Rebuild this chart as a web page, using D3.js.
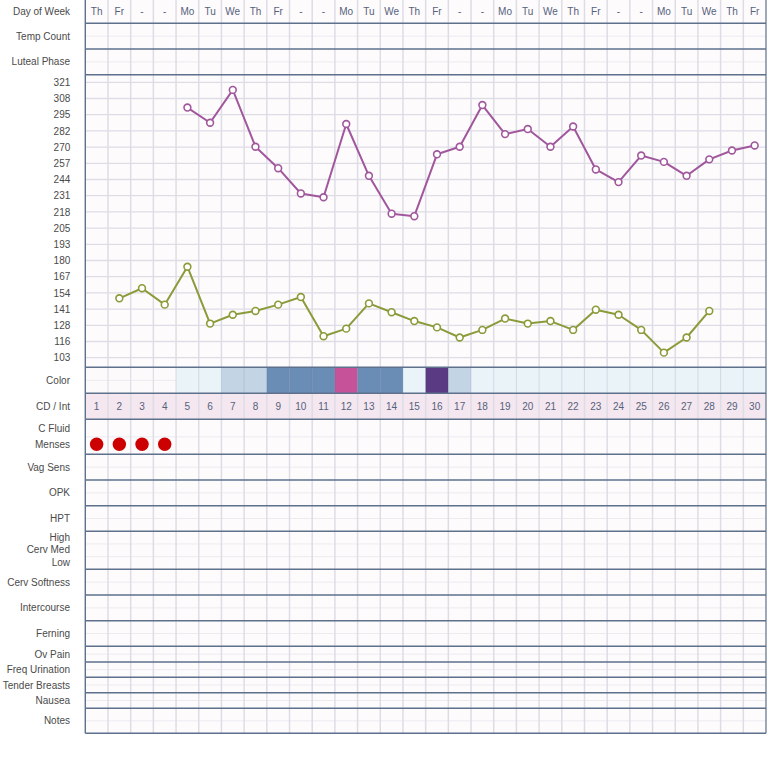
<!DOCTYPE html>
<html>
<head>
<meta charset="utf-8">
<script src="https://cdn.jsdelivr.net/npm/d3@7"></script>
<style>
  html, body { margin: 0; padding: 0; background: #ffffff; }
  svg { display: block; }
  text { font-family: "Liberation Sans", Arial, sans-serif; }
</style>
</head>
<body>
<svg id="chart" width="768" height="768"></svg>
<script>
// ---------------- DATA ----------------
const cycleDays = d3.range(1, 31);
const dayOfWeek = ["Th","Fr","-","-","Mo","Tu","We","Th","Fr","-","-","Mo","Tu","We","Th","Fr","-","-","Mo","Tu","We","Th","Fr","-","-","Mo","Tu","We","Th","Fr"];
const tempTickLabels = ["103","116","128","141","154","167","180","193","205","218","231","244","257","270","282","295","308","321"];
const upperSeries = [null,null,null,null,301,289,315,270,253,233,230,288,247,217,215,264,270,303,280,284,270,286,252,242,263,258,247,260,267,271];
const lowerSeries = [null,150,158,145,175,130,137,140,145,151,120,126,146,139,132,127,119,125,134,130,132,125,141,137,125,107,119,140,null,null];
const colorCategory = ["none","none","none","none","pale","pale","light","light","medium","medium","medium","pink","medium","medium","pale","dark","light","pale","pale","pale","pale","pale","pale","pale","pale","pale","pale","pale","pale","pale"];
const mensesDays = [1,2,3,4];
const rowLabels = [
  {key:"dow", labels:["Day of Week"]},
  {key:"tempCount", labels:["Temp Count"]},
  {key:"luteal", labels:["Luteal Phase"]},
  {key:"temp", labels:[]},
  {key:"color", labels:["Color"]},
  {key:"cd", labels:["CD / Int"]},
  {key:"menses", labels:["C Fluid","Menses"]},
  {key:"vag", labels:["Vag Sens"]},
  {key:"opk", labels:["OPK"]},
  {key:"hpt", labels:["HPT"]},
  {key:"cerv", labels:["High","Cerv Med","Low"]},
  {key:"soft", labels:["Cerv Softness"]},
  {key:"inter", labels:["Intercourse"]},
  {key:"fern", labels:["Ferning"]},
  {key:"ovpain", labels:["Ov Pain"]},
  {key:"freq", labels:["Freq Urination"]},
  {key:"tender", labels:["Tender Breasts"]},
  {key:"nausea", labels:["Nausea"]},
  {key:"notes", labels:["Notes"]}
];
const rowHeights = [23.3,25.7,25.7,292.6,26,26,35,25.7,25.7,25.6,38,25.7,25.7,25.6,15.7,15.3,15.4,15.6,25];
const colorPalette = {none:"#fdfafc", pale:"#eaf3f8", light:"#c3d4e4", medium:"#6a8db6", pink:"#c6529a", dark:"#5a3a82"};

// ---------------- LAYOUT ----------------
const svg = d3.select("#chart");
const gridLeft = 85.3, gridRight = 766;
const x = d3.scaleBand().domain(cycleDays).range([gridLeft, gridRight]).padding(0);

let acc = 0;
const rows = rowLabels.map((r, i) => { const o = {...r, y0: acc, h: rowHeights[i]}; acc += rowHeights[i]; o.y1 = acc; return o; });
const rowByKey = Object.fromEntries(rows.map(r => [r.key, r]));

const darkLine = "#5d708c", lightLine = "#dddde6", faintLine = "#ecebf0", labelColor = "#4a4a4a", colText = "#55627c";

// background
svg.append("rect").attr("x", gridLeft).attr("y", 0).attr("width", gridRight - gridLeft).attr("height", acc)
  .attr("fill", "#fefbfd");

// CD row background
const cdRow = rowByKey.cd;
svg.append("rect").attr("x", gridLeft).attr("y", cdRow.y0).attr("width", gridRight - gridLeft).attr("height", cdRow.h)
  .attr("fill", "#f4e7ef");

// faint mid lines in non-temp rows
rows.filter(r => r.key !== "temp" && r.key !== "cd" && r.key !== "dow").forEach(r => {
  const n = r.key === "cerv" ? 3 : 2;
  for (let k = 1; k < n; k++) {
    const yy = r.y0 + r.h * k / n;
    svg.append("line").attr("x1", gridLeft).attr("x2", gridRight).attr("y1", yy).attr("y2", yy)
      .attr("stroke", faintLine).attr("stroke-width", 1);
  }
});

// temp chart scale
const tempRow = rowByKey.temp;
const y = d3.scaleLinear().domain([103, 321]).range([357.7, 82.3]);
const tickVals = tempTickLabels.map((t, i) => 103 + i * 218 / (tempTickLabels.length - 1));

// horizontal grid in temp area
svg.append("g").selectAll("line").data(tickVals).join("line")
  .attr("x1", gridLeft).attr("x2", gridRight).attr("y1", d => y(d)).attr("y2", d => y(d))
  .attr("stroke", lightLine).attr("stroke-width", 1.3);

// vertical column lines
svg.append("g").selectAll("line").data(cycleDays.slice(1)).join("line")
  .attr("x1", d => x(d)).attr("x2", d => x(d)).attr("y1", 0).attr("y2", acc)
  .attr("stroke", lightLine).attr("stroke-width", 1.5);

// color row cells (drawn over the grid)
const colorRow = rowByKey.color;
svg.append("g").selectAll("rect").data(cycleDays).join("rect")
  .attr("x", d => x(d)).attr("y", colorRow.y0).attr("width", x.bandwidth()).attr("height", colorRow.h)
  .attr("fill", d => colorPalette[colorCategory[d - 1]]);
// grid lines inside uncoloured color cells
const plain = cycleDays.filter(d => colorCategory[d - 1] === "none");
svg.append("g").selectAll("line").data(plain).join("line")
  .attr("x1", d => x(d)).attr("x2", d => x(d) + x.bandwidth())
  .attr("y1", colorRow.y0 + colorRow.h / 2).attr("y2", colorRow.y0 + colorRow.h / 2)
  .attr("stroke", faintLine).attr("stroke-width", 1);
svg.append("g").selectAll("line").data(cycleDays.slice(1)).join("line")
  .attr("x1", d => x(d)).attr("x2", d => x(d)).attr("y1", colorRow.y0).attr("y2", colorRow.y1)
  .attr("stroke", d => (colorCategory[d - 1] === "none" || colorCategory[d - 2] === "none") ? lightLine : "rgba(70,90,120,0.12)")
  .attr("stroke-width", 1.2);

// dark row borders
svg.append("g").selectAll("line").data(rows.map(r => r.y1)).join("line")
  .attr("x1", gridLeft).attr("x2", gridRight).attr("y1", d => d).attr("y2", d => d)
  .attr("stroke", darkLine).attr("stroke-width", 1.4);
svg.append("line").attr("x1", gridLeft).attr("x2", gridLeft).attr("y1", 0).attr("y2", acc)
  .attr("stroke", darkLine).attr("stroke-width", 1.4);
svg.append("line").attr("x1", gridRight).attr("x2", gridRight).attr("y1", 0).attr("y2", acc)
  .attr("stroke", darkLine).attr("stroke-width", 1.2);

// y axis tick labels
const yAxis = d3.axisLeft(y).tickValues(tickVals).tickSize(0).tickPadding(15)
  .tickFormat((d, i) => tempTickLabels[i]);
const gy = svg.append("g").attr("transform", `translate(${gridLeft},0)`).call(yAxis);
gy.select(".domain").remove();
gy.selectAll("text").attr("font-size", 10).attr("fill", labelColor)
  .attr("font-family", '"Liberation Sans", Arial, sans-serif');

// row labels
rows.forEach(r => {
  const n = r.labels.length;
  if (!n) return;
  let ys;
  if (r.key === "menses") ys = [r.y0 + 9, r.y0 + 25];
  else if (r.key === "cerv") ys = [r.y0 + 6.5, r.y0 + 18.5, r.y0 + 31];
  else ys = [r.y0 + r.h / 2];
  r.labels.forEach((t, i) => {
    svg.append("text").attr("x", 70).attr("y", ys[i]).attr("text-anchor", "end")
      .attr("dominant-baseline", "central").attr("font-size", 10).attr("fill", labelColor).text(t);
  });
});

// day-of-week header
const dowRow = rowByKey.dow;
svg.append("g").selectAll("text").data(cycleDays).join("text")
  .attr("x", d => x(d) + x.bandwidth() / 2).attr("y", dowRow.y0 + dowRow.h / 2)
  .attr("text-anchor", "middle").attr("dominant-baseline", "central")
  .attr("font-size", 10).attr("fill", colText).text(d => dayOfWeek[d - 1]);

// cycle day numbers
svg.append("g").selectAll("text").data(cycleDays).join("text")
  .attr("x", d => x(d) + x.bandwidth() / 2).attr("y", cdRow.y0 + cdRow.h / 2)
  .attr("text-anchor", "middle").attr("dominant-baseline", "central")
  .attr("font-size", 10).attr("fill", colText).text(d => d);

// menses dots
const mRow = rowByKey.menses;
svg.append("g").selectAll("circle").data(mensesDays).join("circle")
  .attr("cx", d => x(d) + x.bandwidth() / 2).attr("cy", mRow.y0 + 25).attr("r", 6.7)
  .attr("fill", "#cc0000");

// temperature series
function drawSeries(vals, color) {
  const pts = cycleDays.map((d, i) => ({d, v: vals[i]})).filter(p => p.v != null);
  const line = d3.line().x(p => x(p.d) + x.bandwidth() / 2).y(p => y(p.v));
  svg.append("path").datum(pts).attr("d", line).attr("fill", "none")
    .attr("stroke", color).attr("stroke-width", 2).attr("stroke-linejoin", "round");
  svg.append("g").selectAll("circle").data(pts).join("circle")
    .attr("cx", p => x(p.d) + x.bandwidth() / 2).attr("cy", p => y(p.v)).attr("r", 3.4)
    .attr("fill", "#ffffff").attr("stroke", color).attr("stroke-width", 1.6);
}
drawSeries(lowerSeries, "#8a9b39");
drawSeries(upperSeries, "#a0579c");
</script>
</body>
</html>
